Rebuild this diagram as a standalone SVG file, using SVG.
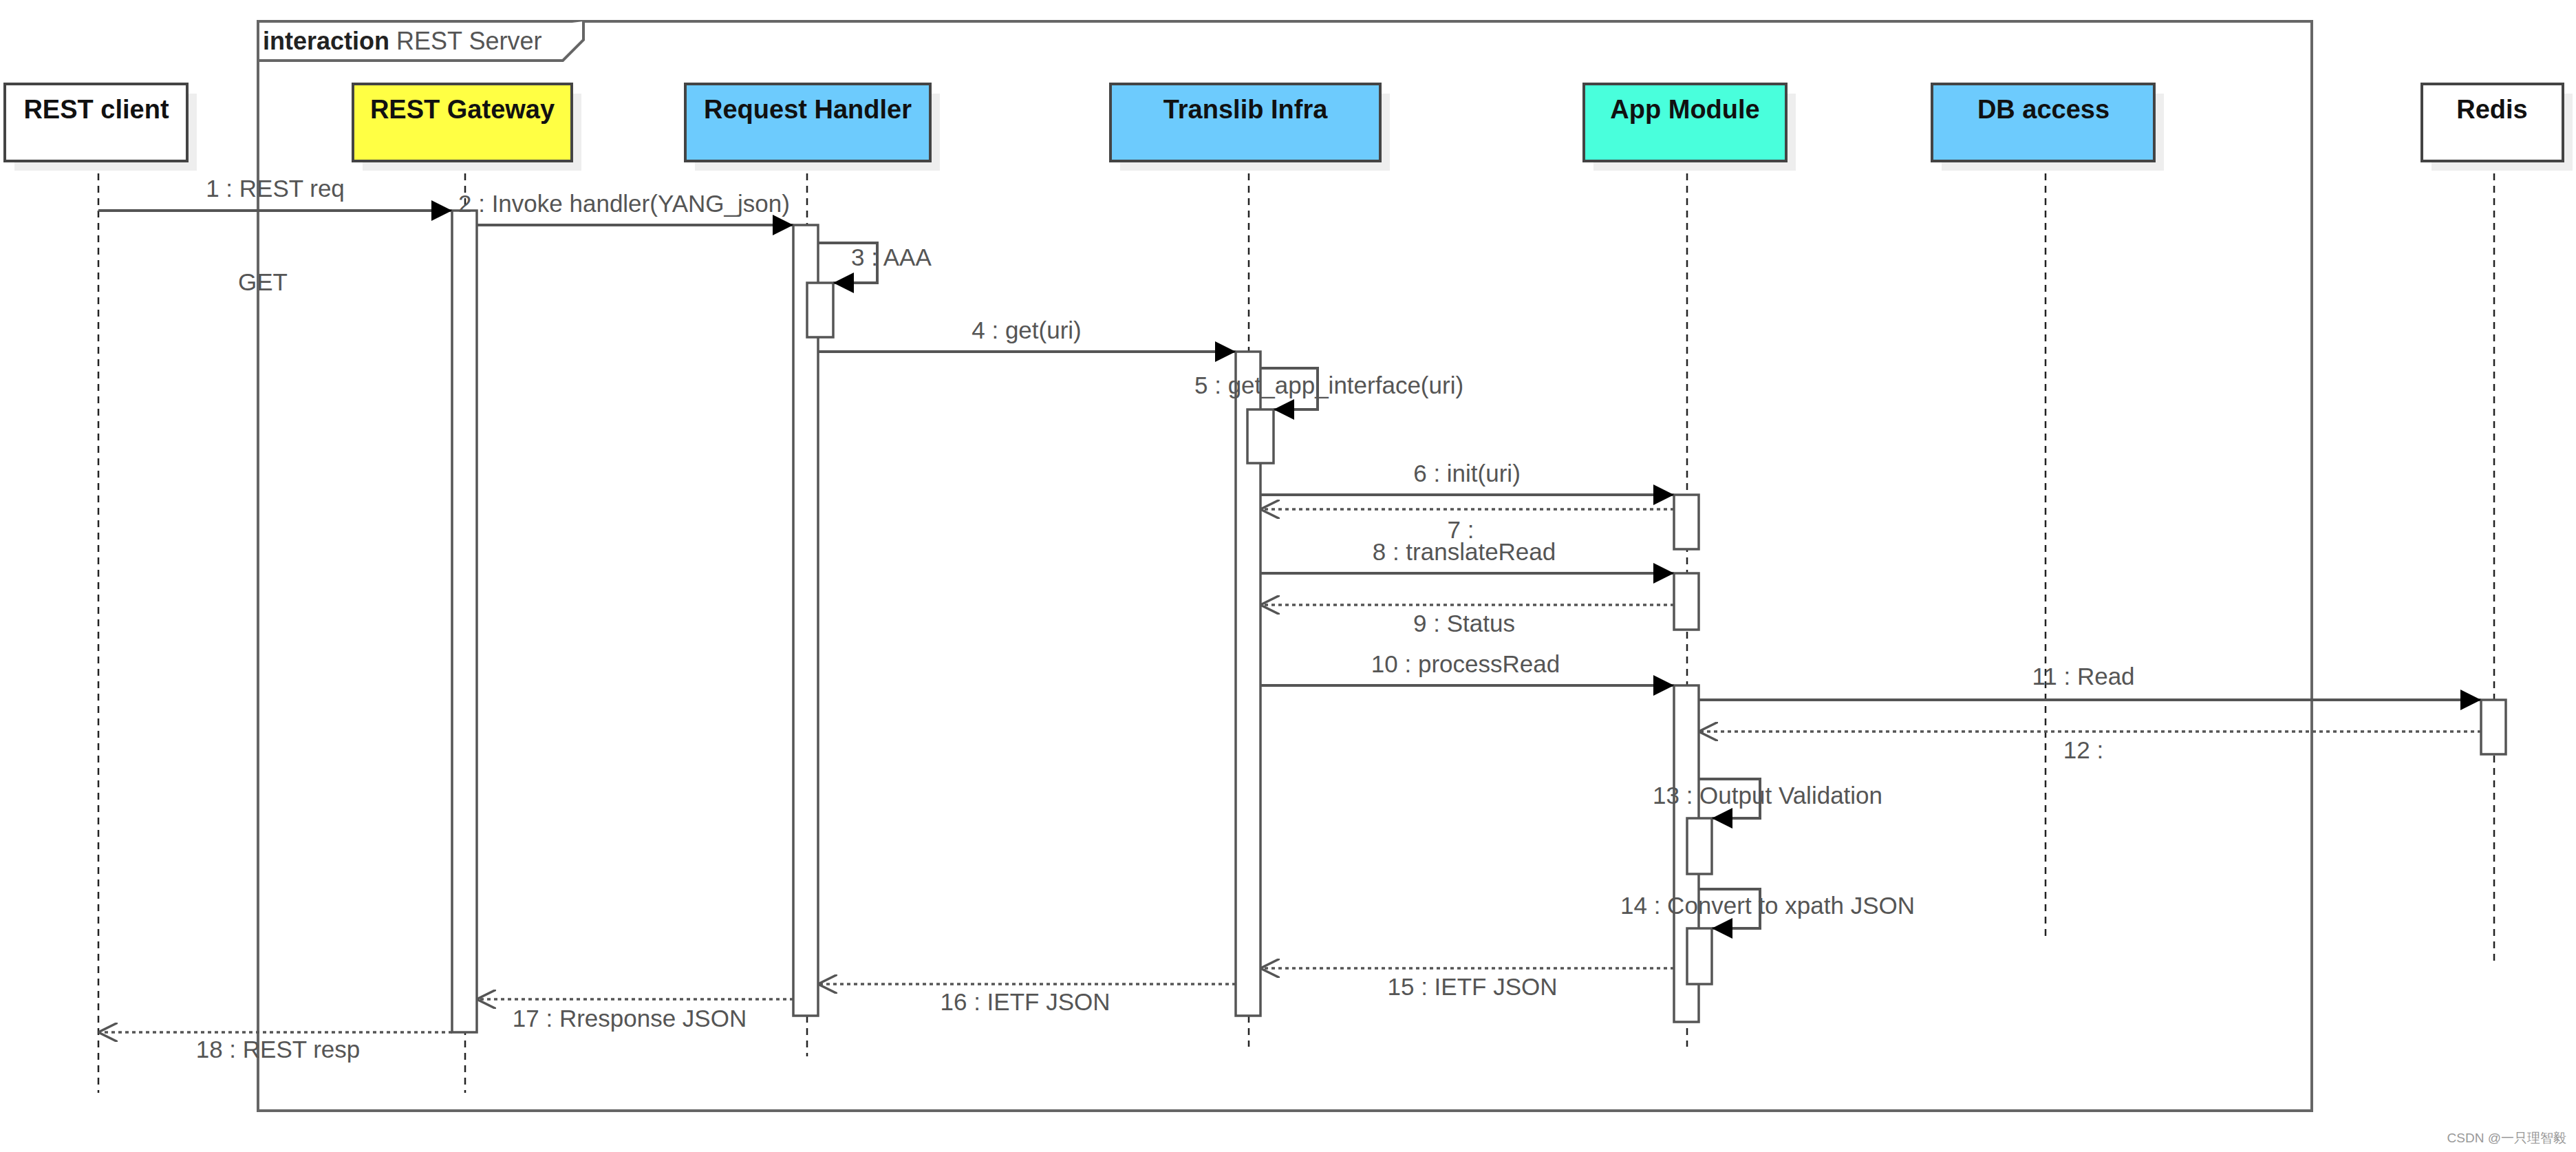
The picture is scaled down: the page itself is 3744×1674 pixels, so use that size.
<svg xmlns="http://www.w3.org/2000/svg" width="3744" height="1674" viewBox="0 0 3744 1674">
<style>
text{font-family:"Liberation Sans",Arial,sans-serif}
.t{font-size:38px;font-weight:bold;fill:#111;text-anchor:middle}
.l{font-size:35px;fill:#555}
.c{text-anchor:middle}
.box{stroke:#444;stroke-width:4}
.sh{fill:#eee}
.life{stroke:#222;stroke-width:2.5;stroke-dasharray:10 8;fill:none}
.act{fill:#fff;stroke:#555;stroke-width:3.5}
.m{stroke:#555;stroke-width:4;fill:none}
.r{stroke:#555;stroke-width:3.5;fill:none;stroke-dasharray:5 5}
</style>
<defs>
<marker id="f" viewBox="0 0 10 10" refX="10" refY="5" markerWidth="8" markerHeight="8" markerUnits="userSpaceOnUse" orient="auto"><path d="M0,0 L10,5 L0,10z" fill="#000"/></marker>
<marker id="fa" viewBox="0 0 10 10" refX="10" refY="5" markerWidth="30" markerHeight="30" markerUnits="userSpaceOnUse" orient="auto"><path d="M0,0 L10,5 L0,10z" fill="#000"/></marker>
<marker id="o" viewBox="0 0 10 10" refX="10" refY="5" markerWidth="28" markerHeight="28" markerUnits="userSpaceOnUse" orient="auto"><path d="M0,0 L10,5 L0,10" fill="none" stroke="#555" stroke-width="1.2"/></marker>
</defs>
<rect width="3744" height="1674" fill="#fff"/>
<g id="frame">
<rect x="375" y="31" width="2985" height="1583" fill="none" stroke="#666" stroke-width="4"/>
<path d="M375,88 L818,88 L848,58 L848,31" fill="#fff" stroke="#666" stroke-width="4"/>
<text x="382" y="72" font-size="36" fill="#222"><tspan font-weight="bold">interaction</tspan><tspan fill="#555"> REST Server</tspan></text>
</g>
<g id="lifelines">
<line class="life" x1="143" y1="234" x2="143" y2="1588"/>
<line class="life" x1="676" y1="234" x2="676" y2="1588"/>
<line class="life" x1="1173" y1="234" x2="1173" y2="1535"/>
<line class="life" x1="1815" y1="234" x2="1815" y2="1521"/>
<line class="life" x1="2452" y1="234" x2="2452" y2="1521"/>
<line class="life" x1="2973" y1="234" x2="2973" y2="1364"/>
<line class="life" x1="3625" y1="234" x2="3625" y2="1399"/>
</g>
<g id="n1"><rect class="sh" x="21" y="136" width="265" height="112"/><rect class="box" x="7" y="122" width="265" height="112" fill="#fff"/><text class="t" x="140" y="172">REST client</text></g>
<g id="n2"><rect class="sh" x="527" y="136" width="318" height="112"/><rect class="box" x="513" y="122" width="318" height="112" fill="#ffff44"/><text class="t" x="672" y="172">REST Gateway</text></g>
<g id="n3"><rect class="sh" x="1010" y="136" width="356" height="112"/><rect class="box" x="996" y="122" width="356" height="112" fill="#6dcbfd"/><text class="t" x="1174" y="172">Request Handler</text></g>
<g id="n4"><rect class="sh" x="1628" y="136" width="392" height="112"/><rect class="box" x="1614" y="122" width="392" height="112" fill="#6dcbfd"/><text class="t" x="1810" y="172">Translib Infra</text></g>
<g id="n5"><rect class="sh" x="2316" y="136" width="294" height="112"/><rect class="box" x="2302" y="122" width="294" height="112" fill="#49ffdc"/><text class="t" x="2449" y="172">App Module</text></g>
<g id="n6"><rect class="sh" x="2822" y="136" width="323" height="112"/><rect class="box" x="2808" y="122" width="323" height="112" fill="#6dcbfd"/><text class="t" x="2970" y="172">DB access</text></g>
<g id="n7"><rect class="sh" x="3534" y="136" width="205" height="112"/><rect class="box" x="3520" y="122" width="205" height="112" fill="#fff"/><text class="t" x="3622" y="172">Redis</text></g>
<g id="activations">
<rect class="act" x="657" y="306" width="36" height="1194"/>
<rect class="act" x="1153" y="327" width="36" height="1149"/>
<rect class="act" x="1173" y="411" width="38" height="79"/>
<rect class="act" x="1796" y="511" width="36" height="965"/>
<rect class="act" x="1813" y="595" width="38" height="78"/>
<rect class="act" x="2433" y="719" width="36" height="79"/>
<rect class="act" x="2433" y="833" width="36" height="82"/>
<rect class="act" x="2433" y="996" width="36" height="489"/>
<rect class="act" x="2452" y="1189" width="36" height="81"/>
<rect class="act" x="2452" y="1349" width="36" height="81"/>
<rect class="act" x="3606" y="1017" width="36" height="79"/>
</g>
<g id="connectors">
<path class="m" d="M143,306 H657" marker-end="url(#fa)"/>
<path class="m" d="M693,327 H1153" marker-end="url(#fa)"/>
<path class="m" d="M1189,353 H1275 V411 H1211" marker-end="url(#fa)"/>
<path class="m" d="M1189,511 H1796" marker-end="url(#fa)"/>
<path class="m" d="M1832,535 H1915 V595 H1851" marker-end="url(#fa)"/>
<path class="m" d="M1832,719 H2433" marker-end="url(#fa)"/>
<path class="r" d="M2433,740 H1832" marker-end="url(#o)"/>
<path class="m" d="M1832,833 H2433" marker-end="url(#fa)"/>
<path class="r" d="M2433,879 H1832" marker-end="url(#o)"/>
<path class="m" d="M1832,996 H2433" marker-end="url(#fa)"/>
<path class="m" d="M2469,1017 H3606" marker-end="url(#fa)"/>
<path class="r" d="M3606,1063 H2469" marker-end="url(#o)"/>
<path class="m" d="M2469,1132 H2558 V1189 H2488" marker-end="url(#fa)"/>
<path class="m" d="M2469,1292 H2558 V1349 H2488" marker-end="url(#fa)"/>
<path class="r" d="M2433,1407 H1832" marker-end="url(#o)"/>
<path class="r" d="M1796,1430 H1189" marker-end="url(#o)"/>
<path class="r" d="M1153,1452 H693" marker-end="url(#o)"/>
<path class="r" d="M657,1500 H143" marker-end="url(#o)"/>
</g>
<g id="labels">
<text class="l c" x="400" y="286">1 : REST req</text>
<text class="l" x="346" y="422">GET</text>
<text class="l" x="666" y="308">2 : Invoke handler(YANG_json)</text>
<text class="l" x="1237" y="386">3 : AAA</text>
<text class="l c" x="1492" y="492">4 : get(uri)</text>
<text class="l" x="1736" y="572">5 : get_app_interface(uri)</text>
<text class="l c" x="2132" y="700">6 : init(uri)</text>
<text class="l c" x="2123" y="782">7 :</text>
<text class="l c" x="2128" y="814">8 : translateRead</text>
<text class="l c" x="2128" y="918">9 : Status</text>
<text class="l c" x="2130" y="977">10 : processRead</text>
<text class="l c" x="3028" y="995">11 : Read</text>
<text class="l c" x="3028" y="1102">12 :</text>
<text class="l" x="2402" y="1168">13 : Output Validation</text>
<text class="l" x="2355" y="1328">14 : Convert to xpath JSON</text>
<text class="l c" x="2140" y="1446">15 : IETF JSON</text>
<text class="l c" x="1490" y="1468">16 : IETF JSON</text>
<text class="l c" x="915" y="1492">17 : Rresponse JSON</text>
<text class="l c" x="404" y="1537">18 : REST resp</text>
<text x="3730" y="1660" font-size="19" fill="#999" text-anchor="end" font-family="'Liberation Sans','Noto Sans CJK SC',sans-serif">CSDN @一只理智毅</text>
</g>
</svg>
